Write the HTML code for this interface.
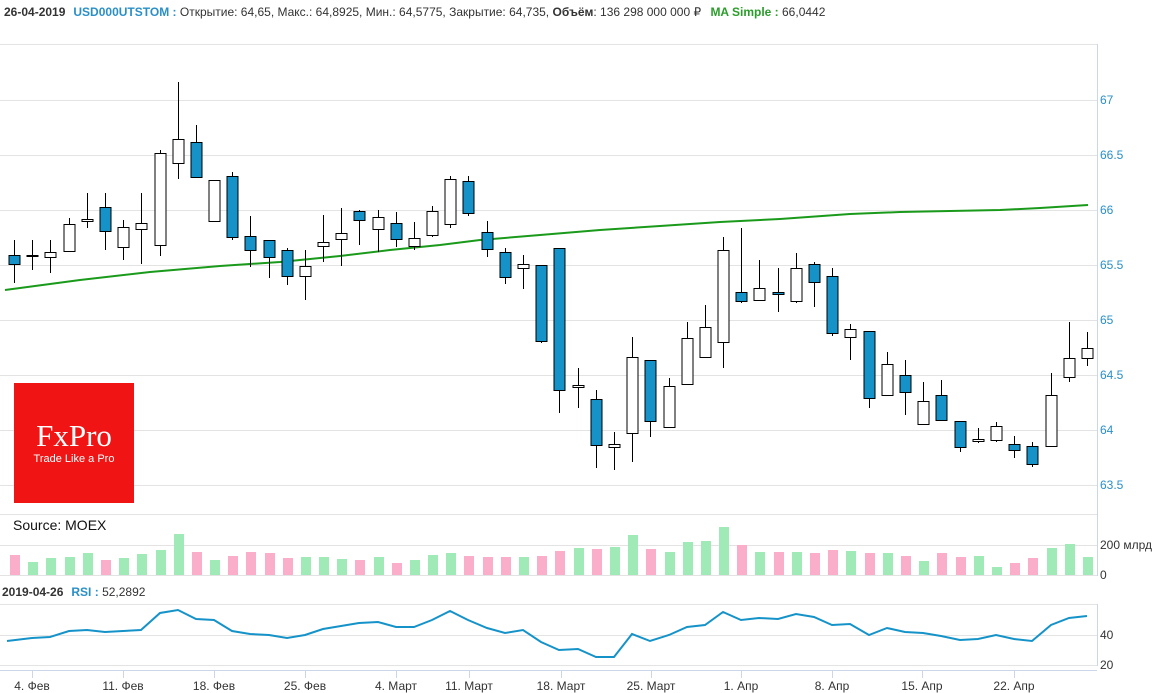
<!DOCTYPE html>
<html><head><meta charset="utf-8">
<style>
body{margin:0;background:#fff;width:1156px;height:693px;overflow:hidden;font-family:"Liberation Sans",Arial,sans-serif}
svg{position:absolute;left:0;top:0}
</style></head><body>
<svg id="s" width="1156" height="693" viewBox="0 0 1156 693" xmlns="http://www.w3.org/2000/svg" font-family="Liberation Sans, Arial, sans-serif">
<g stroke="#e3e3e3" stroke-width="1">
<line x1="0" y1="44.5" x2="1097" y2="44.5"/>
<line x1="0" y1="100.5" x2="1097" y2="100.5"/><line x1="0" y1="155.5" x2="1097" y2="155.5"/>
<line x1="0" y1="210.5" x2="1097" y2="210.5"/><line x1="0" y1="265.5" x2="1097" y2="265.5"/>
<line x1="0" y1="320.5" x2="1097" y2="320.5"/><line x1="0" y1="375.5" x2="1097" y2="375.5"/>
<line x1="0" y1="430.5" x2="1097" y2="430.5"/><line x1="0" y1="485.5" x2="1097" y2="485.5"/>
<line x1="0" y1="514.5" x2="1097" y2="514.5"/><line x1="0" y1="545.5" x2="1097" y2="545.5"/><line x1="0" y1="575.5" x2="1097" y2="575.5"/>
<line x1="0" y1="604.5" x2="1097" y2="604.5"/><line x1="0" y1="635.5" x2="1097" y2="635.5"/><line x1="0" y1="665.5" x2="1097" y2="665.5"/>
</g>
<g stroke="#ccd6eb" stroke-width="1">
<line x1="1097.5" y1="44" x2="1097.5" y2="515"/>
<line x1="1097.5" y1="514" x2="1097.5" y2="576"/>
<line x1="1097.5" y1="604" x2="1097.5" y2="666"/>
<line x1="0" y1="670.5" x2="1097" y2="670.5"/>
<line x1="32.5" y1="670" x2="32.5" y2="678"/><line x1="123.5" y1="670" x2="123.5" y2="678"/>
<line x1="214.5" y1="670" x2="214.5" y2="678"/><line x1="305.5" y1="670" x2="305.5" y2="678"/>
<line x1="396.5" y1="670" x2="396.5" y2="678"/><line x1="469.5" y1="670" x2="469.5" y2="678"/>
<line x1="561.5" y1="670" x2="561.5" y2="678"/><line x1="651.5" y1="670" x2="651.5" y2="678"/>
<line x1="741.5" y1="670" x2="741.5" y2="678"/><line x1="832.5" y1="670" x2="832.5" y2="678"/>
<line x1="922.5" y1="670" x2="922.5" y2="678"/><line x1="1014.5" y1="670" x2="1014.5" y2="678"/>
</g>
<g font-size="12" fill="#2a8fc8">
<text x="1100" y="104">67</text><text x="1100" y="159">66.5</text><text x="1100" y="214">66</text>
<text x="1100" y="269">65.5</text><text x="1100" y="324">65</text><text x="1100" y="379">64.5</text>
<text x="1100" y="434">64</text><text x="1100" y="489">63.5</text>
</g>
<g font-size="12" fill="#333">
<text x="1100" y="549">200 млрд</text><text x="1100" y="579">0</text>
<text x="1100" y="639">40</text><text x="1100" y="669">20</text>
</g>
<g font-size="12" fill="#333" text-anchor="middle">
<text x="32" y="690">4. Фев</text><text x="123" y="690">11. Фев</text><text x="214" y="690">18. Фев</text>
<text x="305" y="690">25. Фев</text><text x="396" y="690">4. Март</text><text x="469" y="690">11. Март</text>
<text x="561" y="690">18. Март</text><text x="651" y="690">25. Март</text><text x="741" y="690">1. Апр</text>
<text x="832" y="690">8. Апр</text><text x="922" y="690">15. Апр</text><text x="1014" y="690">22. Апр</text>
</g>
<text x="4" y="16" font-size="12"><tspan font-weight="bold" fill="#333">26-04-2019</tspan><tspan dx="8" font-weight="bold" fill="#2a8fc8">USD000UTSTOM :</tspan><tspan fill="#333"> Открытие: 64,65, Макс.: 64,8925, Мин.: 64,5775, Закрытие: 64,735, </tspan><tspan font-weight="bold" fill="#333">Объём</tspan><tspan fill="#333">: 136 298 000 000 ₽ </tspan><tspan dx="6" font-weight="bold" fill="#2a9d2a">MA Simple :</tspan><tspan fill="#333"> 66,0442</tspan></text>
<text x="2" y="596" font-size="12"><tspan font-weight="bold" fill="#333">2019-04-26</tspan><tspan dx="8" font-weight="bold" fill="#2a8fc8">RSI :</tspan><tspan fill="#333"> 52,2892</tspan></text>
<text x="13" y="530" font-size="14" fill="#111">Source: MOEX</text>
<rect x="14" y="383" width="120" height="120" fill="#f01414"/>
<text x="74" y="446" font-family="Liberation Serif, serif" font-size="31" fill="#fff" text-anchor="middle">FxPro</text>
<text x="74" y="462" font-size="11" fill="#fff" text-anchor="middle">Trade Like a Pro</text>
<polyline fill="none" stroke="#1a9a1a" stroke-width="2" points="5,290 80,280 150,272 220,266 280,262 340,256 390,250 440,245 480,240 540,235 600,230 660,226 720,222 780,219 850,214 900,212 950,211 1000,210 1040,208 1088,205"/>
<polyline fill="none" stroke="#1593c9" stroke-width="2" points="7,641 32,638 50,637 69,631 87,630 105,632 123,631 141,630 160,613 178,610 196,619 214,620 232,631 250,634 269,635 287,638 305,635 323,629 341,626 359,623 378,622 396,627 414,627 432,620 450,611 468,620 487,628 505,633 523,630 541,642 559,650 578,649 596,657 614,657 632,634 650,641 669,635 687,627 705,625 723,612 741,620 759,618 778,619 796,614 814,617 832,625 850,624 869,635 887,628 905,632 923,633 941,636 960,640 978,639 996,635 1014,639 1032,641 1051,625 1069,618 1087,616"/>
<g id="c"></g>
</svg>
<script>
var C=[[14,'b',255,264,240,283],[32,'w',255,256,240,270],[50,'w',252,257,240,273],[69,'w',224,251,218,252],[87,'w',219,221,193,228],[105,'b',207,231,193,250],[123,'w',227,247,220,260],[141,'w',223,229,193,264],[160,'w',153,245,150,256],[178,'w',139,163,82,179],[196,'b',142,177,125,177],[214,'w',180,221,180,222],[232,'b',176,237,172,240],[250,'b',236,250,216,267],[269,'b',240,257,240,278],[287,'b',250,276,248,285],[305,'w',266,276,250,300],[323,'w',242,246,215,262],[341,'w',233,239,208,266],[359,'b',211,220,210,245],[378,'w',217,229,210,252],[396,'b',223,239,212,247],[414,'w',238,246,222,250],[432,'w',211,235,206,237],[450,'w',179,224,176,228],[468,'b',181,213,176,216],[487,'b',232,249,221,257],[505,'b',252,277,248,284],[523,'w',264,268,255,289],[541,'b',265,341,265,343],[559,'b',248,390,248,413],[578,'w',385,387,368,408],[596,'b',399,445,390,468],[614,'w',444,447,432,470],[632,'w',357,433,337,462],[650,'b',360,421,360,437],[669,'w',386,427,378,428],[687,'w',338,384,322,384],[705,'w',327,357,305,357],[723,'w',250,342,237,368],[741,'b',292,301,228,303],[759,'w',288,300,260,300],[778,'b',292,294,268,312],[796,'w',268,301,253,303],[814,'b',264,282,262,307],[832,'b',276,333,268,336],[850,'w',329,337,324,360],[869,'b',331,398,331,408],[887,'w',364,395,352,395],[905,'b',375,392,360,415],[923,'w',401,424,382,424],[941,'b',395,420,380,420],[960,'b',421,447,421,452],[978,'w',439,441,428,443],[996,'w',426,440,422,442],[1014,'b',444,450,436,458],[1032,'b',446,464,442,467],[1051,'w',395,446,373,447],[1069,'w',358,377,322,382],[1087,'w',348,358,332,366]];
var V=[555,562,558,557,553,560,558,554,550,534,552,560,556,552,553,558,557,557,559,560,557,563,560,555,553,556,557,557,557,556,551,548,549,547,535,549,552,542,541,527,545,552,552,552,553,550,551,553,553,556,561,553,557,556,567,563,558,548,544,557];
var g=document.getElementById('c'),h='';
C.forEach(function(c,i){var x=c[0];
h+='<line x1="'+(x+.5)+'" y1="'+c[4]+'" x2="'+(x+.5)+'" y2="'+c[5]+'" stroke="#000" stroke-width="1"/>';
h+='<rect x="'+(x-5)+'" y="'+(c[2]+.5)+'" width="11" height="'+Math.max(1,c[3]-c[2])+'" fill="'+(c[1]=='b'?'#1593c9':'#fff')+'" stroke="#000" stroke-width="1"/>';
var v=V[i]||556;h+='<rect x="'+(x-4)+'" y="'+v+'" width="10" height="'+(575-v)+'" fill="'+(c[1]=='b'?'#fbaec9':'#a0eab8')+'"/>';});
g.innerHTML=h;
</script>
</body></html>
